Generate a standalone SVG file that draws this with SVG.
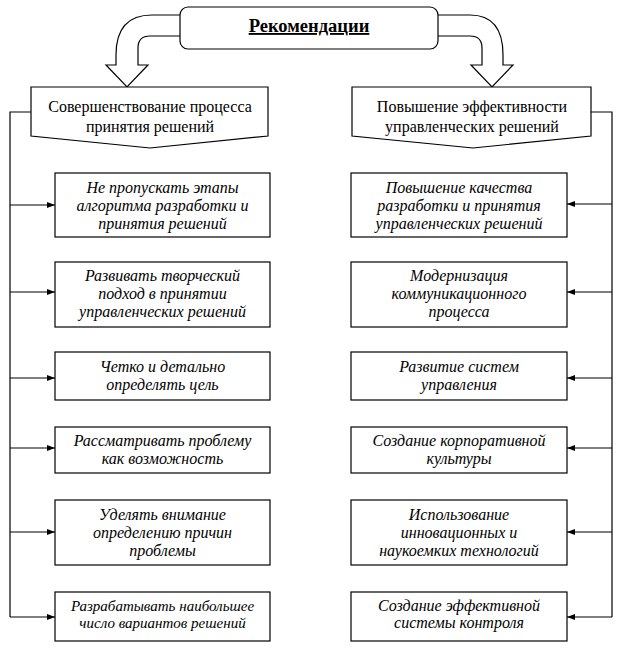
<svg xmlns="http://www.w3.org/2000/svg" width="625" height="652" viewBox="0 0 625 652">
<style>
.shape{fill:#fff;stroke:#000;stroke-width:1.2}
.conn{fill:none;stroke:#000;stroke-width:1.2}
.hdr{font-family:"Liberation Serif","Times New Roman",serif;font-size:16px;fill:#000;text-anchor:middle}
.itm{font-family:"Liberation Serif","Times New Roman",serif;font-size:16px;font-style:italic;fill:#000;text-anchor:middle}
.sm{font-size:15px}
.ttl{font-family:"Liberation Serif","Times New Roman",serif;font-size:18.5px;font-weight:bold;text-decoration:underline;fill:#000;text-anchor:middle}
</style>
<defs>
<marker id="ah" markerWidth="9" markerHeight="7" refX="8" refY="3" orient="auto" markerUnits="userSpaceOnUse">
<path d="M0,0 L8,3 L0,6 z" fill="#000"/>
</marker>
</defs>
<rect width="625" height="652" fill="#fff"/>

<g id="arrow-left">
<path class="shape" d="M180,15 L152,15 Q116,15 116,55 L116,65 L106,65 L127,87 L148,65 L138,65 L138,48 Q138,36 150,36 L180,36"/>
</g>
<g id="arrow-right">
<path class="shape" d="M438,15 L470,15 Q503,15 503,55 L503,65 L513,65 L492,87 L471,65 L482,65 L482,48 Q482,36 470,36 L438,36"/>
</g>
<g id="title">
<rect class="shape" x="180" y="7" width="258" height="42" rx="8"/>
<text class="ttl" x="309" y="32">Рекомендации</text>
</g>

<g id="header-left">
<polygon class="shape" points="31,87 268,87 268,136 150,148 31,136"/>
<text class="hdr" x="150" y="112">Совершенствование процесса</text>
<text class="hdr" x="150" y="132">принятия решений</text>
</g>
<g id="header-right">
<polygon class="shape" points="352,87 591,87 591,136 473,148 352,136"/>
<text class="hdr" x="472" y="112">Повышение эффективности</text>
<text class="hdr" x="472" y="132">управленческих решений</text>
</g>

<g id="connectors">
<path class="conn" d="M31,112 H10 V617"/>
<path class="conn" d="M10,205 H55" marker-end="url(#ah)"/>
<path class="conn" d="M10,292 H55" marker-end="url(#ah)"/>
<path class="conn" d="M10,378 H55" marker-end="url(#ah)"/>
<path class="conn" d="M10,448 H55" marker-end="url(#ah)"/>
<path class="conn" d="M10,532 H55" marker-end="url(#ah)"/>
<path class="conn" d="M10,617 H55" marker-end="url(#ah)"/>
<path class="conn" d="M591,112 H612 V617"/>
<path class="conn" d="M612,204 H567" marker-end="url(#ah)"/>
<path class="conn" d="M612,292 H567" marker-end="url(#ah)"/>
<path class="conn" d="M612,378 H567" marker-end="url(#ah)"/>
<path class="conn" d="M612,448 H567" marker-end="url(#ah)"/>
<path class="conn" d="M612,532 H567" marker-end="url(#ah)"/>
<path class="conn" d="M612,617 H567" marker-end="url(#ah)"/>
</g>

<g id="left-1">
<rect class="shape" x="55" y="173" width="215" height="64"/>
<text class="itm" x="162.5" y="193">Не пропускать этапы</text>
<text class="itm" x="162.5" y="211">алгоритма разработки и</text>
<text class="itm" x="162.5" y="229">принятия решений</text>
</g>
<g id="left-2">
<rect class="shape" x="55" y="262" width="215" height="65"/>
<text class="itm" x="162.5" y="281">Развивать творческий</text>
<text class="itm" x="162.5" y="299">подход в принятии</text>
<text class="itm" x="162.5" y="317">управленческих решений</text>
</g>
<g id="left-3">
<rect class="shape" x="55" y="352" width="215" height="48"/>
<text class="itm" x="162.5" y="372">Четко и детально</text>
<text class="itm" x="162.5" y="390">определять цель</text>
</g>
<g id="left-4">
<rect class="shape" x="55" y="427" width="215" height="46"/>
<text class="itm" x="162.5" y="446">Рассматривать проблему</text>
<text class="itm" x="162.5" y="464">как возможность</text>
</g>
<g id="left-5">
<rect class="shape" x="55" y="500" width="215" height="65"/>
<text class="itm" x="162.5" y="520">Уделять внимание</text>
<text class="itm" x="162.5" y="538">определению причин</text>
<text class="itm" x="162.5" y="556">проблемы</text>
</g>
<g id="left-6">
<rect class="shape" x="55" y="592" width="215" height="49"/>
<text class="itm sm" x="162.5" y="611">Разрабатывать наибольшее</text>
<text class="itm sm" x="162.5" y="628">число вариантов решений</text>
</g>

<g id="right-1">
<rect class="shape" x="351" y="173" width="216" height="64"/>
<text class="itm" x="459" y="193">Повышение качества</text>
<text class="itm" x="459" y="211">разработки и принятия</text>
<text class="itm" x="459" y="229">управленческих решений</text>
</g>
<g id="right-2">
<rect class="shape" x="351" y="262" width="216" height="65"/>
<text class="itm" x="459" y="281">Модернизация</text>
<text class="itm" x="459" y="299">коммуникационного</text>
<text class="itm" x="459" y="317">процесса</text>
</g>
<g id="right-3">
<rect class="shape" x="351" y="352" width="216" height="48"/>
<text class="itm" x="459" y="372">Развитие систем</text>
<text class="itm" x="459" y="390">управления</text>
</g>
<g id="right-4">
<rect class="shape" x="351" y="427" width="216" height="46"/>
<text class="itm" x="459" y="446">Создание корпоративной</text>
<text class="itm" x="459" y="464">культуры</text>
</g>
<g id="right-5">
<rect class="shape" x="351" y="500" width="216" height="65"/>
<text class="itm" x="459" y="520">Использование</text>
<text class="itm" x="459" y="538">инновационных и</text>
<text class="itm" x="459" y="556">наукоемких технологий</text>
</g>
<g id="right-6">
<rect class="shape" x="351" y="592" width="216" height="49"/>
<text class="itm" x="459" y="611">Создание эффективной</text>
<text class="itm" x="459" y="628">системы контроля</text>
</g>
</svg>
